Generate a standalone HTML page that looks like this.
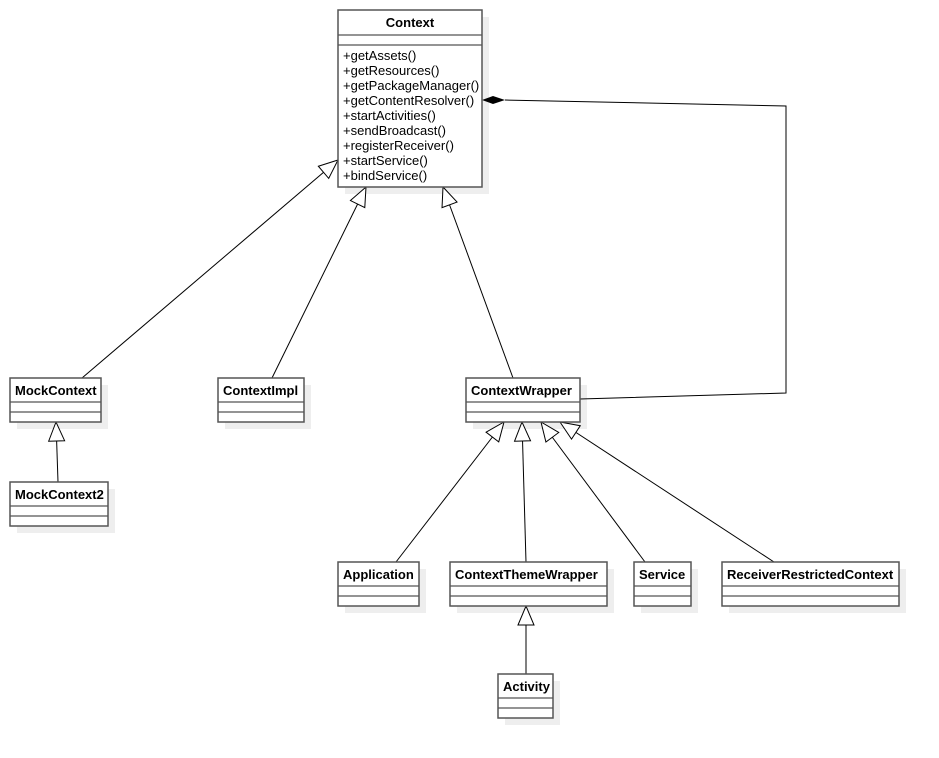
<!DOCTYPE html>
<html><head><style>html,body{margin:0;padding:0;background:#fff;}svg{display:block;}
text{font-family:"Liberation Sans",Arial,sans-serif;font-size:13px;fill:#000;}
.b{font-weight:bold;}
.box{fill:#fff;stroke:#555;stroke-width:1.5;}
.sh{fill:#eeeeee;}
.ln{stroke:#555;stroke-width:1.3;}
.e{stroke:#000;stroke-width:1;fill:none;}
</style></head><body>
<svg width="939" height="758" xmlns="http://www.w3.org/2000/svg">
<defs>
<marker id="t" markerUnits="userSpaceOnUse" markerWidth="24" markerHeight="20" refX="20" refY="9" orient="auto">
<path d="M1,1 L20,9 L1,17 Z" fill="#fff" stroke="#000" stroke-width="1"/>
</marker>
</defs>
<rect class="sh" x="345" y="17" width="144" height="177"/>
<rect class="sh" x="17" y="385" width="91" height="44"/>
<rect class="sh" x="17" y="489" width="98" height="44"/>
<rect class="sh" x="225" y="385" width="86" height="44"/>
<rect class="sh" x="473" y="385" width="114" height="44"/>
<rect class="sh" x="345" y="569" width="81" height="44"/>
<rect class="sh" x="457" y="569" width="157" height="44"/>
<rect class="sh" x="641" y="569" width="57" height="44"/>
<rect class="sh" x="729" y="569" width="177" height="44"/>
<rect class="sh" x="505" y="681" width="55" height="44"/>
<line class="e" x1="82" y1="378" x2="338" y2="160" marker-end="url(#t)"/>
<line class="e" x1="272" y1="378" x2="366" y2="187" marker-end="url(#t)"/>
<line class="e" x1="513" y1="378" x2="443" y2="187" marker-end="url(#t)"/>
<line class="e" x1="58" y1="482" x2="56" y2="422" marker-end="url(#t)"/>
<line class="e" x1="396" y1="562" x2="504" y2="422" marker-end="url(#t)"/>
<line class="e" x1="526" y1="562" x2="522" y2="422" marker-end="url(#t)"/>
<line class="e" x1="645" y1="562" x2="541" y2="422" marker-end="url(#t)"/>
<line class="e" x1="774" y1="562" x2="560" y2="422" marker-end="url(#t)"/>
<line class="e" x1="526" y1="674" x2="526" y2="606" marker-end="url(#t)"/>
<polyline class="e" points="580,399 786,393 786,106 505,100"/>
<path d="M482,100 L493,96 L505,100 L493,104 Z" fill="#000"/>
<rect class="box" x="338" y="10" width="144" height="177"/>
<line class="ln" x1="338" y1="35" x2="482" y2="35"/>
<line class="ln" x1="338" y1="45" x2="482" y2="45"/>
<text class="b" x="410" y="27" text-anchor="middle">Context</text>
<text x="343" y="60">+getAssets()</text>
<text x="343" y="75">+getResources()</text>
<text x="343" y="90">+getPackageManager()</text>
<text x="343" y="105">+getContentResolver()</text>
<text x="343" y="120">+startActivities()</text>
<text x="343" y="135">+sendBroadcast()</text>
<text x="343" y="150">+registerReceiver()</text>
<text x="343" y="165">+startService()</text>
<text x="343" y="180">+bindService()</text>
<g>
<rect class="box" x="10" y="378" width="91" height="44"/><line class="ln" x1="10" y1="402" x2="101" y2="402"/><line class="ln" x1="10" y1="412" x2="101" y2="412"/><text class="b" x="15" y="395">MockContext</text>
<rect class="box" x="10" y="482" width="98" height="44"/><line class="ln" x1="10" y1="506" x2="108" y2="506"/><line class="ln" x1="10" y1="516" x2="108" y2="516"/><text class="b" x="15" y="499">MockContext2</text>
<rect class="box" x="218" y="378" width="86" height="44"/><line class="ln" x1="218" y1="402" x2="304" y2="402"/><line class="ln" x1="218" y1="412" x2="304" y2="412"/><text class="b" x="223" y="395">ContextImpl</text>
<rect class="box" x="466" y="378" width="114" height="44"/><line class="ln" x1="466" y1="402" x2="580" y2="402"/><line class="ln" x1="466" y1="412" x2="580" y2="412"/><text class="b" x="471" y="395">ContextWrapper</text>
<rect class="box" x="338" y="562" width="81" height="44"/><line class="ln" x1="338" y1="586" x2="419" y2="586"/><line class="ln" x1="338" y1="596" x2="419" y2="596"/><text class="b" x="343" y="579">Application</text>
<rect class="box" x="450" y="562" width="157" height="44"/><line class="ln" x1="450" y1="586" x2="607" y2="586"/><line class="ln" x1="450" y1="596" x2="607" y2="596"/><text class="b" x="455" y="579">ContextThemeWrapper</text>
<rect class="box" x="634" y="562" width="57" height="44"/><line class="ln" x1="634" y1="586" x2="691" y2="586"/><line class="ln" x1="634" y1="596" x2="691" y2="596"/><text class="b" x="639" y="579">Service</text>
<rect class="box" x="722" y="562" width="177" height="44"/><line class="ln" x1="722" y1="586" x2="899" y2="586"/><line class="ln" x1="722" y1="596" x2="899" y2="596"/><text class="b" x="727" y="579">ReceiverRestrictedContext</text>
<rect class="box" x="498" y="674" width="55" height="44"/><line class="ln" x1="498" y1="698" x2="553" y2="698"/><line class="ln" x1="498" y1="708" x2="553" y2="708"/><text class="b" x="503" y="691">Activity</text>
</g>
</svg>
</body></html>
